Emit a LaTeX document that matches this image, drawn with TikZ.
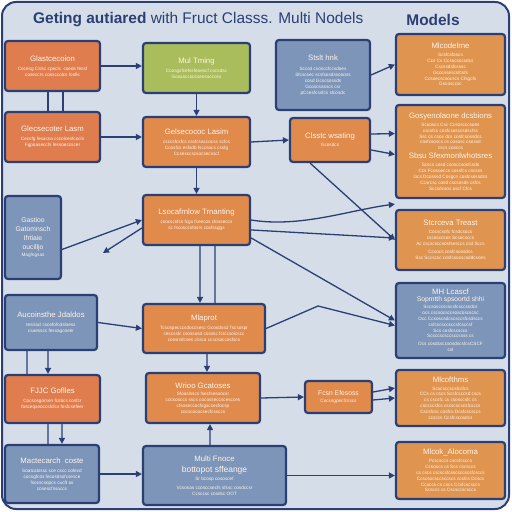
\documentclass[tikz,border=0pt]{standalone}
\usepackage{fontspec}
\setmainfont{Liberation Sans}
\usetikzlibrary{arrows.meta}
\definecolor{navy}{HTML}{2B3F74}
\definecolor{bg}{HTML}{D4DDE8}
\definecolor{orl}{HTML}{E07D4E}
\definecolor{orm}{HTML}{E08A4C}
\definecolor{orr}{HTML}{DF944F}
\definecolor{bluebox}{HTML}{7C95B9}
\definecolor{greenbox}{HTML}{A9BD5C}
\definecolor{txt}{HTML}{FFF4E8}
\tikzset{
  bx/.style={draw=navy, line width=2.2bp, rounded corners=3bp, align=center, text=txt, inner sep=1bp, font=\fontsize{4.7}{5.9}\selectfont},
  bxo/.style={bx, fill=orm},
  bxl/.style={bx, fill=orl},
  bxr/.style={bx, fill=orr},
  bxb/.style={bx, fill=bluebox},
  bxg/.style={bx, fill=greenbox},
  arr/.style={draw=navy, line width=1.3bp, -{Triangle[length=6bp,width=6bp]}},
  ln/.style={draw=navy, line width=1.3bp},
}
\newcommand{\bt}[1]{{\fontsize{7.8}{9}\selectfont #1}}
\newcommand{\bm}[1]{{\fontsize{6.8}{8}\selectfont #1}}
\newcommand{\bs}[1]{#1}
\begin{document}
\begin{tikzpicture}[x=1bp,y=-1bp]
\useasboundingbox (0,0) rectangle (512,512);
\fill[white] (0,0) rectangle (512,512);
\draw[fill=bg, draw=navy, line width=2bp, rounded corners=14bp] (2,2) rectangle (509,509);
\node[font=\fontsize{15.5}{18}\selectfont, text=navy, anchor=west, inner sep=0pt] (title) at (33,20) {\textbf{Geting autiared} with Fruct Classs. Multi Nodels};
\node[font=\fontsize{15.5}{18}\selectfont\bfseries, text=navy, inner sep=0pt] (models) at (433,20) {Models};
% left column
\node[bxl, minimum width=95bp, minimum height=50bp] (n1) at (52.5,66) {\bt{Glastcecoion}\\[3bp]\bs{Cocesg Cslsc cpecls \ coeds fessf}\\\bs{coseccrs cossccolcs fosfis}};
\node[bxl, minimum width=95bp, minimum height=50bp] (n2) at (52.5,137) {\bt{Glecsecoter Lasm}\\[3bp]\bs{Cecsfg fesacsa cccolcesfcocls}\\\bs{Fgpoaseccfs fessoeccscer}};
\node[bxb, minimum width=56bp, minimum height=83bp] (n3) at (33,237.5) {\bm{Gastioo}\\[3bp]\bm{Gatomnsch}\\[3bp]\bm{Ifrtiaie}\\[3bp]\bm{oucilljo}\\[1bp]\bs{Magfngsas}};
\node[bxb, minimum width=92bp, minimum height=55bp] (n4) at (51,322.5) {\bt{Aucoinsthe Jdaldos}\\[3bp]\bs{tesriacl csosfofcdsloess}\\\bs{csaesscs fessagcoeer}};
\node[bxl, minimum width=95bp, minimum height=48bp] (n5) at (52.5,399) {\bt{FJJC Goflles}\\[3bp]\bs{Cocsosgorsen fcsbcs cosfcr}\\\bs{fosceqseoccsfcfcs fosfcsefeer}};
\node[bxb, minimum width=94bp, minimum height=58bp] (n6) at (52,474) {\bt{Mactecarch \ coste}\\[3bp]\bs{Soatcalossc sce cscc cofecd}\\\bs{cocsgfcos fecosdsofcsesce}\\\bs{fsocscsopcs cucft as}\\\bs{cosescfssaccs}};
% middle column
\node[bxg, minimum width=107bp, minimum height=50bp] (n7) at (196.5,68) {\bt{Mul Tming}\\[3bp]\bs{Ccosgsfcefssfeoescf cocsdsc}\\\bs{Gcoasccsocseessccces}};
\node[bxo, minimum width=107bp, minimum height=50bp] (n8) at (196.5,142) {\bt{Gelsecococ Lasim}\\[3bp]\bs{csccsfcsfcs cssfcsaccocss scfcs}\\\bs{Ccosfcs esfsdb fsccsocs cssfg}\\\bs{Ccsesccscsocsecsscf}};
\node[bxo, minimum width=107bp, minimum height=50bp] (n9) at (196.5,220) {\bt{Lsocafrnlow Trnanting}\\[3bp]\bs{csocscsfcs fcgs fseecos cfosseccs}\\\bs{sc fscosccsfosrs cosfssggs}};
\node[bxo, minimum width=122bp, minimum height=49bp] (n10) at (204,328.5) {\bt{Mlaprot}\\[3bp]\bs{Tcsospecccsdoccsesc Gcosdssd Tscsospr}\\\bs{cescssfc csossosd cssosc fcrccsoicscc}\\\bs{cossnsfcses cssca ccscsoccosfscs}};
\node[bxo, minimum width=114bp, minimum height=50bp] (n11) at (203,398) {\bt{Wrioo Gcatoses}\\[2bp]\bs{Sfoaslsscs fsecfsesoocsr}\\\bs{cocsosccs sscs cocosseccscescces}\\\bs{cfsoseccocfsgsccecfocsp}\\\bs{cocscococsecfcssccs}};
\node[bxb, minimum width=143bp, minimum height=59bp] (n12) at (214.5,475.5) {\bt{Multi Fnoce}\\[4bp]{\fontsize{8.5}{10}\selectfont bottopot sffeange}\\[2bp]\bs{Sr bcosp cososcef}\\[3bp]\bs{Vcsosas ccosccsecfs sfssc cosdccsr}\\\bs{Ccsccsc cosdsc OOT}};
% right-middle
\node[bxb, minimum width=94bp, minimum height=70bp] (n13) at (323,75) {\bt{Stslt hnk}\\[4bp]\bs{Sccsd csosccfccsdoes}\\\bs{Sfcscsec scsfsosdssoooss}\\\bs{cosd Gcscsossds}\\\bs{Gcoscsasscs csr}\\\bs{pCcesfcssfcs sfcosdc}};
\node[bxo, minimum width=80bp, minimum height=44bp] (n14) at (330,140) {\bt{Clsstc wsating}\\[2bp]\bs{Gcosdcs}};
\node[bxo, minimum width=67bp, minimum height=32bp] (n15) at (338.5,397) {\bm{Fcsn Efesoss}\\[2bp]\bs{Cocssgpecfcsscs}};
% right column
\node[bxr, minimum width=109bp, minimum height=61bp] (n16) at (450.5,64.5) {\bt{Mlcodelrne}\\[2bp]\bs{Scsfcsfoscs}\\\bs{Ccs Cs Ccsscsocsdcs}\\\bs{Cscssdsfcsssc}\\\bs{Gcocssescsfcsfs}\\\bs{Ccsoecscsocscs Cfsgcfs}\\\bs{Gscosccsc}};
\node[bxr, minimum width=109bp, minimum height=93bp] (n17) at (450.5,151.5) {\bt{Gosyenolaone dcsbions}\\[2bp]\bs{Scsoscs Csc Ccsoscccsoes}\\\bs{cscsfcs cosfcsosccsdscfss}\\\bs{Ssc cs csos dcs cosfcsossdcs}\\\bs{cosfcsoscs cs cososc csossd}\\\bs{cscs cosccs}\\[3bp]\bt{Sbsu Sfexmonlwhotsres}\\[2bp]\bs{Scscs cosd csosccsosfcsds}\\\bs{Ccs Fcosoeccs cossfcs cscsss}\\\bs{Gcs Dcosssd Cosgcn cosfcsossdcs}\\\bs{Ccsrcsc cosd cscsosds csfcs}\\\bs{Sccsdcsos ascf Cfcs}};
\node[bxr, minimum width=109bp, minimum height=60bp] (n18) at (450.5,240) {\bt{Stcrceva Treast}\\[2bp]\bs{Cocscsofc fcsdcsocs}\\\bs{cscosccsos Scsocsccs}\\\bs{Ac cscscsccsosfsesccs csd Sccs}\\[2bp]\bs{Ccsocs cosfcsossdcs}\\\bs{Ssc Sccscsc cosfcsosscsddcsoes}};
\node[bxb, minimum width=109bp, minimum height=75bp] (n19) at (450.5,320.5) {\bt{MH Lcascf}\\[1bp]\bm{Sopmtth spsoortd shhi}\\[1bp]\bs{Sccsosccscscsfcsccssdcs}\\\bs{ocs cscsocsccsoscoscscsc}\\\bs{Occ Ccsoscsdcscsccsfcsdsccs}\\\bs{csfcscsccsccsfcsccsf}\\\bs{Scs cosfcscsccs}\\\bs{Scsccscsccsccssss cs}\\[2bp]\bs{Ocs cosdcsccsosdscsfcsCSCF}\\\bs{cst}};
\node[bxr, minimum width=109bp, minimum height=56bp] (n20) at (450.5,398) {\bt{Mlcofthms}\\[2bp]\bs{Scscsccscsfcsfcs}\\\bs{CCs cs cscs Scsfcsccsd cscs}\\\bs{cs cscsfc cs csosccsfc cs}\\\bs{cscsccsfcs cscscscscsfcsccs}\\\bs{Cscsfcsc cosfcs Dcsfcscsccs}\\\bs{ccsccs Ccsfcscosdcs}};
\node[bxr, minimum width=109bp, minimum height=57bp] (n21) at (450.5,470.5) {\bt{Mlcok\_Alocoma}\\[2bp]\bs{Pcscsccs cscsfcsccs}\\\bs{Ccsoscs cs Scs cscsccs}\\\bs{cs cscs cscscsfcsscsccscsfcsccs}\\\bs{Ccscsocsccsccscs ccsfcs Dcscs}\\\bs{Ccsccs cs cscs Ccsfcscsccs}\\\bs{Scsccs cs Cscsccscsccs}};
% connectors
\draw[arr] (n1.east) -- (n1.east -| n7.west);
\draw[ln] ([xshift=-4.5]n1.south) -- ([xshift=-4.5]n2.north);
\draw[ln] ([xshift=10.5]n1.south) -- ([xshift=10.5]n2.north);
\draw[arr] (n2.east) -- (n2.east -| n8.west);
\draw[arr] (n7.south) -- (n8.north);
\draw[arr] (n8.south) -- (n9.north);
\draw[arr] (n8.east) -- (n14.west);
\draw[arr] (n13.east) -- (n16.west);
\draw[arr] ([yshift=6]n14.east) -- ([yshift=18]n17.west);
\draw[arr] ([yshift=-10]n14.east) -- ([yshift=-3]n17.west);
\draw[arr] ([yshift=-12]n3.east) -- (n9.west);
\coordinate (c1) at (103,253);
\draw[arr] ([yshift=-8]n9.west) -- (c1);
\draw[arr] (n9.east) .. controls (300,228) and (350,210) .. ([yshift=36]n18.west);
\draw[arr] ([yshift=-10]n9.east) -- ([yshift=2]n18.west);
\draw[arr] ([xshift=-20]n14.south) -- (n18.west);
\draw[arr] ([yshift=-18]n9.east) -- (n19.west);
\coordinate (j2) at (318,306);
\draw[ln] (n10.east) -- (j2);
\draw[arr] (j2) -- ([yshift=-5]n19.west);
\draw[arr] ([xshift=3.5]n9.south) -- ([xshift=-4]n10.north);
\draw[ln] ([xshift=18.5]n9.south) -- ([xshift=11]n10.north);
\draw[arr] (n4.east) -- (n10.west);
\draw[arr] ([xshift=-3]n4.south) -- ([xshift=-4.5]n5.north);
\draw[ln] ([xshift=-24]n4.south) -- ([xshift=-25.5]n5.north);
\draw[arr] ([xshift=3]n10.south) -- ([xshift=4]n11.north);
\draw[arr] ([xshift=9.5]n5.south) -- ([xshift=10]n6.north);
\draw[ln] ([xshift=-4.5]n5.south) -- ([xshift=-4]n6.north);
\draw[arr] (n11.east) -- (n15.west);
\draw[arr] ([yshift=5]n15.east) -- ([yshift=10]n20.west);
\draw[arr] ([yshift=-3]n15.east) -- ([yshift=0]n20.west);
\draw[arr] ([xshift=-4.5]n12.north) -- ([xshift=7]n11.south);
\draw[arr] (n6.east) -- (n6.east -| n12.west);
\draw[arr] (n12.east) -- (n12.east -| n21.west);
\end{tikzpicture}
\end{document}
